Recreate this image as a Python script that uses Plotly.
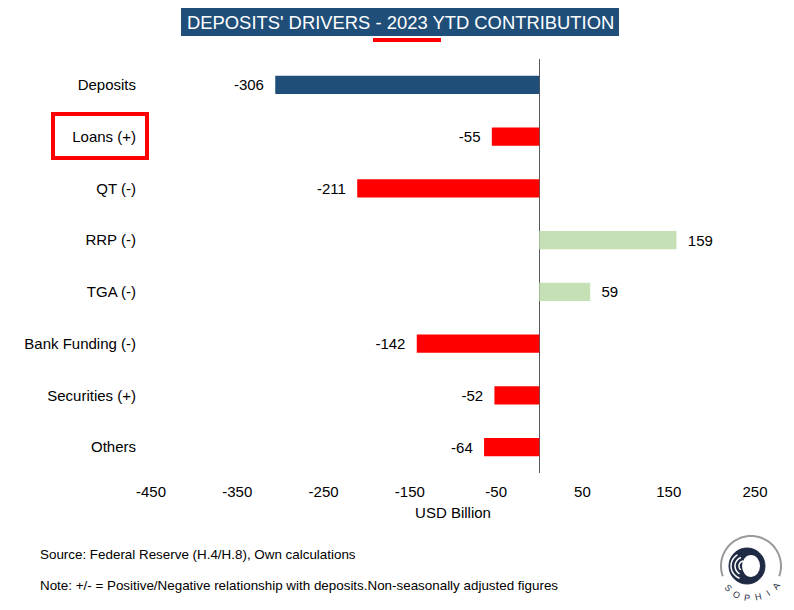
import math
import plotly.graph_objects as go

categories = ["Deposits", "Loans (+)", "QT (-)", "RRP (-)", "TGA (-)",
              "Bank Funding (-)", "Securities (+)", "Others"]
values = [-306, -55, -211, 159, 59, -142, -52, -64]
bar_colors = ["#1F4E79", "#FF0000", "#FF0000", "#C5E0B4", "#C5E0B4",
              "#FF0000", "#FF0000", "#FF0000"]
x_ticks = [-450, -350, -250, -150, -50, 50, 150, 250]

W, H = 794, 610
L, R, T, B = 151, 39, 59, 137
PW, PH = W - L - R, H - T - B

def px(x):
    return (x - L) / PW

def py(y):
    return (H - B - y) / PH

def path_from(points):
    return "M " + " L ".join(f"{px(a):.5f},{py(b):.5f}" for a, b in points)

FONT = "Liberation Sans, Arial, sans-serif"
NB = "\u00a0\u00a0"
labels = [(f"{v}{NB}" if v < 0 else f"{NB}{v}") for v in values]

fig = go.Figure(go.Bar(
    x=values, y=categories, orientation="h",
    marker=dict(color=bar_colors, line=dict(width=0)),
    width=0.35,
    text=labels, textposition="outside",
    textfont=dict(size=15, color="black", family=FONT),
    cliponaxis=False,
))

# logo geometry
cx, cy = 751, 566
arc = [(cx + 30 * math.cos(math.radians(a)), cy - 30 * math.sin(math.radians(a)))
       for a in range(200, -21, -5)]
hair = []
for r0, a0, a1 in [(13, 120, 250), (9, 110, 240), (5, 100, 230)]:
    pts = [(744 + r0 * math.cos(math.radians(a)), 566 - r0 * math.sin(math.radians(a)))
           for a in range(a0, a1 + 1, 10)]
    hair.append(pts)

shapes = [
    dict(type="rect", xref="paper", yref="paper", x0=px(181), x1=px(619),
         y0=py(36), y1=py(8), fillcolor="#1F4E79", line=dict(width=0)),
    dict(type="rect", xref="paper", yref="paper", x0=px(373), x1=px(441),
         y0=py(42), y1=py(38), fillcolor="#FF0000", line=dict(width=0)),
    dict(type="rect", xref="paper", yref="paper", x0=px(53), x1=px(147),
         y0=py(158), y1=py(114), line=dict(color="#FF0000", width=4)),
    dict(type="path", xref="paper", yref="paper", path=path_from(arc),
         line=dict(color="#9A9A9A", width=2)),
    dict(type="circle", xref="paper", yref="paper", x0=px(729), x1=px(765),
         y0=py(584), y1=py(548), fillcolor="#1F2A44",
         line=dict(color="#1F2A44", width=1)),
    dict(type="circle", xref="paper", yref="paper", x0=px(742), x1=px(760),
         y0=py(577), y1=py(555), fillcolor="white", line=dict(width=0)),
]
for pts in hair:
    shapes.append(dict(type="path", xref="paper", yref="paper", path=path_from(pts),
                       line=dict(color="white", width=1.5)))

annotations = [
    dict(text="DEPOSITS' DRIVERS - 2023 YTD CONTRIBUTION", xref="paper", yref="paper",
         x=px(400), y=py(22), xanchor="center", yanchor="middle", showarrow=False,
         font=dict(size=18.4, color="white", family=FONT)),
    dict(text="Source: Federal Reserve (H.4/H.8), Own calculations", xref="paper",
         yref="paper", x=px(38), y=py(554), xanchor="left", yanchor="middle",
         showarrow=False, font=dict(size=13.4, color="black", family=FONT)),
    dict(text="Note: +/- = Positive/Negative relationship with deposits.Non-seasonally adjusted figures",
         xref="paper", yref="paper", x=px(38), y=py(585), xanchor="left", yanchor="middle",
         showarrow=False, font=dict(size=13.4, color="black", family=FONT)),
]
letters = "SOPHIA"
for i, ch in enumerate(letters):
    a = 224 + i * 19.6
    ang = math.radians(a)
    lx = cx + 32 * math.cos(ang)
    ly = cy - 32 * math.sin(ang)
    annotations.append(dict(text=ch, xref="paper", yref="paper", x=px(lx), y=py(ly),
                            xanchor="center", yanchor="middle", showarrow=False,
                            textangle=-(a - 270), font=dict(size=9, color="#1F2A44",
                                                            family=FONT)))

fig.update_layout(
    width=W, height=H,
    margin=dict(l=L, r=R, t=T, b=B),
    paper_bgcolor="white", plot_bgcolor="white",
    showlegend=False,
    shapes=shapes, annotations=annotations,
    xaxis=dict(
        range=[-450, 250], tickvals=x_ticks, ticktext=[str(v) for v in x_ticks],
        showgrid=False, showline=False, zeroline=True, zerolinecolor="#595959",
        zerolinewidth=1, ticks="", ticklabelstandoff=8,
        tickfont=dict(size=15, color="black", family=FONT),
        title=dict(text="USD Billion", font=dict(size=15, color="black", family=FONT),
                   standoff=8),
    ),
    yaxis=dict(
        autorange="reversed", showgrid=False, showline=False, zeroline=False,
        ticks="", ticklabelstandoff=14,
        tickfont=dict(size=15, color="black", family=FONT),
    ),
)

fig.write_html("out.html")
